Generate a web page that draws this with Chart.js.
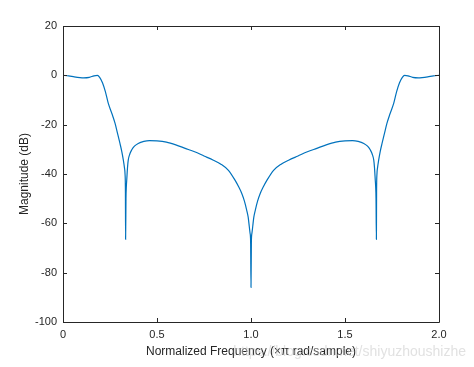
<!DOCTYPE html>
<html>
<head>
<meta charset="utf-8">
<script src="https://cdn.jsdelivr.net/npm/chart.js@4"></script>
<style>
  html, body { margin: 0; padding: 0; background: #fff; }
  #wrap { width: 474px; height: 367px; }
</style>
</head>
<body>
<div id="wrap"><canvas id="myChart" width="474" height="367"></canvas></div>
<script>
// normalized frequency (x pi rad/sample) and magnitude (dB)
const freq = [
    0, 0.03, 0.06, 0.09, 0.11, 0.14, 0.165, 0.183, 0.195, 0.21, 0.225, 0.241,
    0.26, 0.277, 0.29, 0.303, 0.313, 0.321, 0.327, 0.33, 0.332, 0.333, 0.335,
    0.337, 0.339, 0.343, 0.347, 0.355, 0.365, 0.38, 0.4, 0.43, 0.46, 0.5, 0.55,
    0.6, 0.65, 0.7, 0.75, 0.8, 0.84, 0.88, 0.915, 0.935, 0.951, 0.965, 0.977,
    0.985, 0.991, 0.995, 0.998, 1.0,
    1.002, 1.005, 1.009, 1.015, 1.023, 1.035, 1.049, 1.065, 1.085, 1.12, 1.16,
    1.2, 1.25, 1.3, 1.35, 1.4, 1.45, 1.5, 1.54, 1.57, 1.6, 1.62, 1.635, 1.645,
    1.653, 1.657, 1.661, 1.663, 1.665, 1.667, 1.668, 1.67, 1.673, 1.679, 1.687,
    1.697, 1.71, 1.723, 1.74, 1.759, 1.775, 1.79, 1.805, 1.817, 1.835, 1.86,
    1.89, 1.91, 1.94, 1.97, 2.0
];
const mag = [
    0, -0.2, -0.6, -0.9, -1.0, -0.8, -0.2, 0, -0.8, -3, -6.5, -11.4,
    -15.5, -19.5, -23.5, -27.6, -31, -34.4, -37.5, -40, -47, -66.5, -50,
    -45, -42.5, -37.5, -34.4, -32, -30.3, -28.7, -27.6, -26.8, -26.5, -26.6, -27.1,
    -28.2, -29.6, -31, -32.7, -34.4, -36, -38.5, -42.5, -45.3, -47.9, -51, -54.6,
    -57.5, -61.4, -64, -67.5, -86,
    -67.5, -64, -61.4, -57.5, -54.6, -51, -47.9, -45.3, -42.5, -38.5, -36,
    -34.4, -32.7, -31, -29.6, -28.2, -27.1, -26.6, -26.5, -26.8, -27.6, -28.7, -30.3, -32,
    -34.4, -37.5, -42.5, -45, -50, -66.5, -47, -40, -37.5, -34.4, -31,
    -27.6, -23.5, -19.5, -15.5, -11.4, -6.5, -3, -0.8, 0, -0.2, -0.8,
    -1.0, -0.9, -0.6, -0.2, 0
];
const xTicks = [0, 0.5, 1, 1.5, 2];
const yTicks = [20, 0, -20, -40, -60, -80, -100];

const axisColor = '#262626';
const font = { family: 'Liberation Sans, Arial, sans-serif', size: 11 };

// box round the axes and ticks pointing inwards on all four sides
const boxPlugin = {
    id: 'box',
    afterDraw(chart) {
        const ctx = chart.ctx;
        const a = chart.chartArea;
        const xs = chart.scales.x, ys = chart.scales.y;
        const len = 4;
        ctx.save();
        ctx.strokeStyle = axisColor;
        ctx.lineWidth = 1;
        ctx.beginPath();
        ctx.rect(Math.round(a.left) + 0.5, Math.round(a.top) + 0.5,
                 Math.round(a.right - a.left), Math.round(a.bottom - a.top));
        xTicks.forEach(function (v) {
            const px = Math.round(xs.getPixelForValue(v)) + 0.5;
            ctx.moveTo(px, a.bottom); ctx.lineTo(px, a.bottom - len);
            ctx.moveTo(px, a.top); ctx.lineTo(px, a.top + len);
        });
        yTicks.forEach(function (v) {
            const py = Math.round(ys.getPixelForValue(v)) + 0.5;
            ctx.moveTo(a.left, py); ctx.lineTo(a.left + len, py);
            ctx.moveTo(a.right, py); ctx.lineTo(a.right - len, py);
        });
        ctx.stroke();

        // faint watermark seen in the picture
        ctx.font = '14px Liberation Sans, Arial, sans-serif';
        ctx.fillStyle = 'rgba(200, 200, 200, 0.55)';
        ctx.textAlign = 'right';
        ctx.textBaseline = 'middle';
        ctx.fillText('https://blog.csdn.net/shiyuzhoushizhe', 466, 352);
        ctx.restore();
    }
};

const data = {
    datasets: [{
        label: 'Magnitude',
        data: freq.map(function (f, i) { return { x: f, y: mag[i] }; }),
        borderColor: '#0072BD',
        borderWidth: 1.2,
        pointRadius: 0,
        cubicInterpolationMode: 'monotone',
        fill: false
    }]
};

const config = {
    type: 'line',
    data: data,
    options: {
        responsive: false,
        animation: false,
        layout: {
            autoPadding: false,
            padding: { top: 26, right: 35, left: 0, bottom: 0 }
        },
        plugins: {
            legend: { display: false },
            tooltip: { enabled: false }
        },
        scales: {
            x: {
                type: 'linear',
                min: 0,
                max: 2,
                afterFit: function (s) { s.height = 45; },
                afterBuildTicks: function (s) { s.ticks = xTicks.map(function (v) { return { value: v }; }); },
                grid: { display: false, drawTicks: false },
                border: { display: false },
                ticks: { color: axisColor, font: font, padding: 6, maxRotation: 0 },
                title: {
                    display: true,
                    text: 'Normalized Frequency (×π rad/sample)',
                    color: axisColor,
                    font: { family: font.family, size: 12 },
                    padding: { top: 0, bottom: 8 }
                }
            },
            y: {
                type: 'linear',
                min: -100,
                max: 20,
                afterFit: function (s) { s.width = 63; },
                afterBuildTicks: function (s) { s.ticks = yTicks.map(function (v) { return { value: v }; }); },
                grid: { display: false, drawTicks: false },
                border: { display: false },
                ticks: { color: axisColor, font: font, padding: 6 },
                title: {
                    display: true,
                    text: 'Magnitude (dB)',
                    color: axisColor,
                    font: { family: font.family, size: 12 },
                    padding: { top: 17, bottom: 0 }
                }
            }
        }
    },
    plugins: [boxPlugin]
};

const myChart = new Chart(document.getElementById('myChart'), config);
</script>
</body>
</html>
